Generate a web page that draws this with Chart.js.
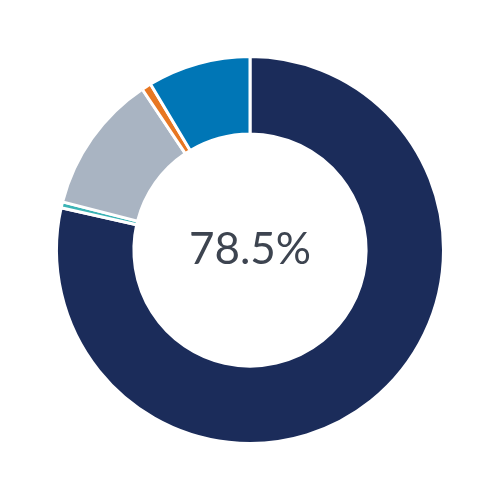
<!DOCTYPE html>
<html><head><script src="https://cdn.jsdelivr.net/npm/chart.js"></script>
<style>body{margin:0;background:#fff}#w{width:500px;height:500px;position:relative}</style></head>
<body><div id="w"><canvas id="c"></canvas></div>
<script>
const labels=["A","B","C","D","E"];
const values=[78.5,0.5,11.6,0.8,8.6];
const colors=["#1b2c5a","#3bb3b5","#a9b4c2","#e87722","#0076b6"];
const centerText="78.5%";
const centerPlugin={id:"ct",afterDraw(ch){const m=ch.getDatasetMeta(0).data[0];const x=m.x,y=m.y;const c=ch.ctx;c.save();c.font="44px Lato";c.fillStyle="#3d4450";c.textAlign="center";c.textBaseline="middle";c.fillText(centerText,x,y);c.restore();}};
new Chart(document.getElementById("c"),{type:"doughnut",data:{labels,datasets:[{data:values,backgroundColor:colors,borderColor:"#fff",borderWidth:3}]},
options:{responsive:true,maintainAspectRatio:false,animation:false,cutout:"60%",layout:{padding:55},plugins:{legend:{display:false},tooltip:{enabled:false}}},plugins:[centerPlugin]});
</script></body></html>
